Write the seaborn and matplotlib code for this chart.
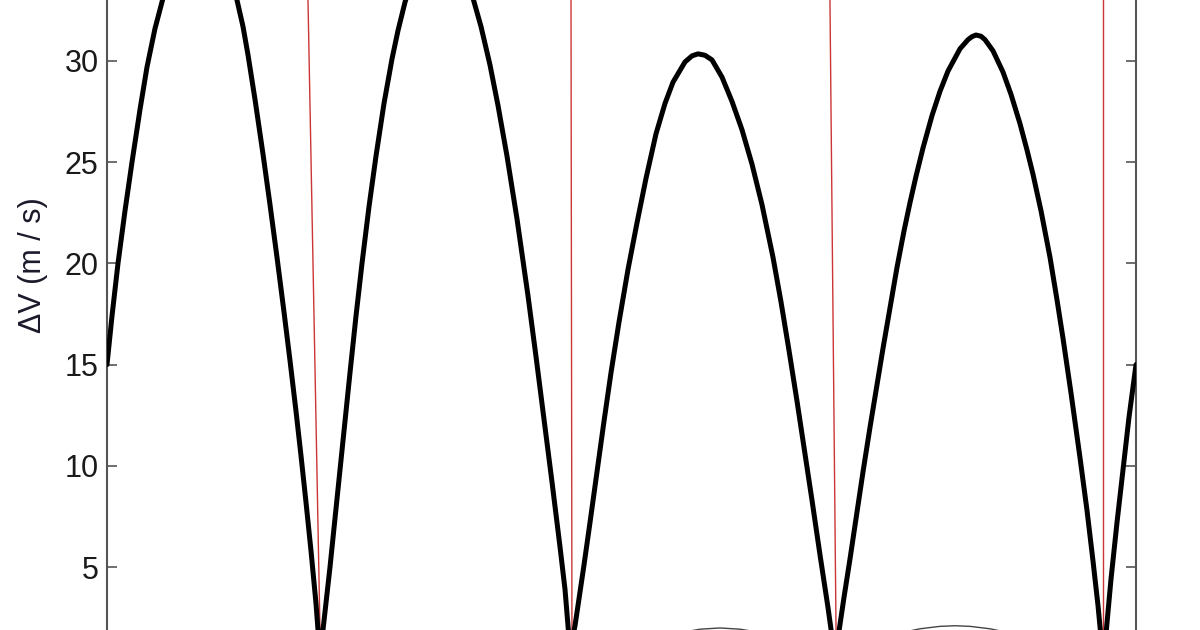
import matplotlib
matplotlib.use("Agg")
import matplotlib.pyplot as plt
import numpy as np
import pandas as pd
import seaborn as sns

# main delta-V curve (thick black), t = position along the x axis
dv_t = [0, 5, 11, 18, 25, 33, 40, 48, 56, 68, 81, 93, 105, 118, 130, 136, 141, 148,
        156, 163, 170, 177, 183, 189, 194, 199, 204, 209, 213,
        216, 223, 228, 233, 238, 243, 249, 255, 262, 269, 277, 285, 291, 298, 308,
        320, 332, 344, 355, 366, 374, 383, 391, 400, 410, 421, 429, 436, 445, 453,
        458, 463,
        468, 477, 483, 490, 497, 504, 512, 521, 530, 539, 549, 558, 566, 578, 585,
        591, 598, 605, 615, 625, 635, 645, 655, 666, 674, 682, 690, 698, 705, 713,
        721, 728,
        731, 737, 743, 750, 756, 763, 770, 776, 783, 790, 797, 803, 809, 816, 825,
        833, 841, 853, 861, 865, 869, 874, 878, 886, 896, 904, 913, 920, 926, 934,
        943, 950, 956, 964, 973, 980, 986, 991, 996,
        999, 1004, 1010, 1016, 1022, 1029]
dv_val = [15.0, 17.4, 20.0, 22.6, 25.0, 27.6, 29.7, 31.6, 33.1, 34.9, 36.0, 36.4, 36.0, 34.9,
          33.0, 31.7, 30.3, 28.1, 25.4, 22.9, 20.3, 17.6, 15.2, 12.7, 10.5, 8.2, 5.8, 3.2, 0.6,
          1.9, 5.0, 7.4, 9.8, 12.2, 14.6, 17.4, 20.0, 22.8, 25.3, 27.9, 30.1, 31.5, 32.9, 34.5,
          35.5, 35.8, 35.5, 34.6, 33.1, 31.7, 29.8, 27.8, 25.3, 22.2, 18.4, 15.4, 12.7, 9.2, 6.0,
          3.9, 0.9,
          2.1, 5.1, 7.2, 9.7, 12.2, 14.6, 17.1, 19.7, 22.0, 24.2, 26.4, 27.9, 28.95, 29.95, 30.25,
          30.35, 30.28, 30.05, 29.2, 28.0, 26.6, 24.9, 22.9, 20.3, 18.1, 15.7, 13.2, 10.6, 8.3, 5.6,
          3.0, 0.5,
          1.5, 3.5, 5.4, 7.7, 9.7, 11.9, 14.0, 15.8, 17.8, 19.8, 21.6, 23.0, 24.3, 25.7, 27.3,
          28.5, 29.5, 30.6, 31.05, 31.2, 31.28, 31.22, 31.05, 30.5, 29.45, 28.35, 26.9, 25.6, 24.4, 22.6,
          20.3, 18.2, 16.3, 13.6, 10.4, 7.8, 5.3, 3.1, 0.5,
          1.7, 4.4, 7.2, 9.8, 12.4, 15.0]

# faint secondary curve, only its crests show at the bottom
thin_a_t = [553, 573, 593, 613, 633, 653, 673]
thin_a_val = [1.45, 1.75, 1.93, 1.99, 1.93, 1.77, 1.45]
thin_b_t = [793, 813, 833, 848, 863, 883, 903]
thin_b_val = [1.74, 1.95, 2.07, 2.10, 2.07, 1.95, 1.74]

# red marker lines (slightly slanted): t at dV=40 and at dV=0
red_t_hi = [198.3, 463.8, 721.6, 996.0]
red_t_lo = [213.7, 465.0, 729.4, 996.0]
red_dv = [40, 0]

yticks = [5, 10, 15, 20, 25, 30]

sns.set_theme(style="white")
plt.rcParams["font.family"] = ["Liberation Sans", "DejaVu Sans"]

fig = plt.figure(figsize=(12, 6.3), dpi=100)
ax = fig.add_axes([107 / 1200, 0, 1029 / 1200, 1])

for hi, lo in zip(red_t_hi, red_t_lo):
    ax.plot([hi, lo], red_dv, color="#cc3535", lw=1.0, zorder=1)

sns.lineplot(x=thin_a_t, y=thin_a_val, ax=ax, color="#444444", linewidth=1.0)
sns.lineplot(x=thin_b_t, y=thin_b_val, ax=ax, color="#444444", linewidth=1.0)
sns.lineplot(x=dv_t, y=dv_val, ax=ax, color="black", linewidth=3.6, zorder=3,
             solid_joinstyle="round")

ax.set_xlim(0, 1029)
ax.set_ylim(1.89, 33.01)
ax.set_xticks([])
ax.set_yticks(yticks)
ax.set_yticklabels([str(v) for v in yticks])
ax.tick_params(axis="y", direction="in", length=7, width=1.2, color="#555555",
               left=True, right=True, labelsize=22, pad=6, labelcolor="#1a1a1a")
for side in ["top", "bottom"]:
    ax.spines[side].set_visible(False)
for side in ["left", "right"]:
    ax.spines[side].set_color("#555555")
    ax.spines[side].set_linewidth(1.5)

ax.set_xlabel("")
ax.set_ylabel("ΔV (m / s)", fontsize=22, color="#1a1a2a")
ax.yaxis.set_label_coords(-0.057, 0.579)

fig.savefig("out.png", dpi=100)
